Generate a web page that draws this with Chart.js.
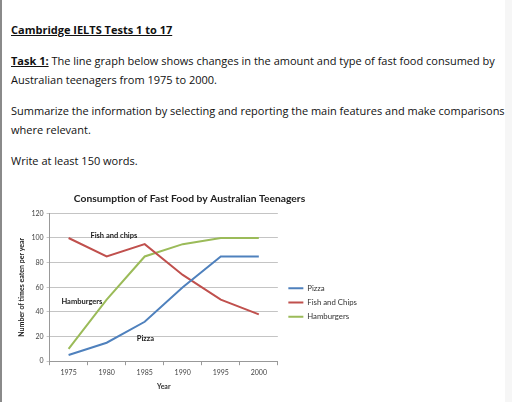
<!DOCTYPE html>
<html>
<head>
<meta charset="utf-8">
<script src="https://cdn.jsdelivr.net/npm/chart.js@4/dist/chart.umd.min.js"></script>
<style>
  html, body { margin: 0; padding: 0; background: #fff; }
  body { width: 512px; height: 402px; position: relative; overflow: hidden; font-family: "Open Sans", sans-serif; color: #111; }
  .edge { position: absolute; left: 0; top: 0; width: 2px; height: 402px; background: #8a8a8a; }
  .shade { position: absolute; right: 0; top: 0; width: 7px; height: 402px; background: #f6f6f6; }
  .txt { position: absolute; left: 11px; font-size: 11px; line-height: 19px; white-space: nowrap; }
  .txt b { font-weight: 700; text-decoration: underline; }
  #wrap { position: absolute; left: 12px; top: 188px; width: 355px; height: 205px; }
</style>
</head>
<body>
<div class="edge"></div>
<div class="shade"></div>
<div class="txt" style="top:20px"><b>Cambridge IELTS Tests 1 to 17</b></div>
<div class="txt" style="top:51px"><b>Task 1:</b> The line graph below shows changes in the amount and type of fast food consumed by<br>Australian teenagers from 1975 to 2000.</div>
<div class="txt" style="top:101px">Summarize the information by selecting and reporting the main features and make comparisons<br>where relevant.</div>
<div class="txt" style="top:151px">Write at least 150 words.</div>
<div id="wrap"><canvas id="chart"></canvas></div>
<script>
const years = ['1975', '1980', '1985', '1990', '1995', '2000'];
const pizza = [5, 15, 32, 60, 85, 85];
const fishAndChips = [100, 85, 95, 70, 50, 38];
const hamburgers = [10, 50, 85, 95, 100, 100];

// labels written on the plot, placed by category index and value
const annoText = ['Fish and chips', 'Hamburgers', 'Pizza'];
const annoIndex = [1.19, 0.35, 2.02];
const annoValue = [102, 48, 18];

const FONT = 'Lato, sans-serif';

const annoPlugin = {
  id: 'annotations',
  afterDatasetsDraw(chart) {
    const { ctx, scales: { x, y } } = chart;
    ctx.save();
    ctx.font = 'bold 7.5px ' + FONT;
    ctx.fillStyle = '#1a1a1a';
    ctx.textAlign = 'center';
    ctx.textBaseline = 'middle';
    annoText.forEach((t, i) => {
      ctx.fillText(t, x.getPixelForValue(annoIndex[i]), y.getPixelForValue(annoValue[i]));
    });
    ctx.restore();
  }
};

function line(label, data, color) {
  return {
    label, data,
    borderColor: color, backgroundColor: color,
    borderWidth: 2, pointRadius: 0, tension: 0
  };
}

new Chart(document.getElementById('chart'), {
  type: 'line',
  data: {
    labels: years,
    datasets: [
      line('Pizza', pizza, '#4f81bd'),
      line('Fish and Chips', fishAndChips, '#c0504d'),
      line('Hamburgers', hamburgers, '#9bbb59')
    ]
  },
  options: {
    responsive: true,
    maintainAspectRatio: false,
    animation: false,
    layout: { padding: 0 },
    plugins: {
      title: {
        display: true,
        text: 'Consumption of Fast Food by Australian Teenagers',
        color: '#222',
        font: { family: FONT, size: 10.3, weight: 'bold' },
        padding: { top: 4, bottom: 9 }
      },
      legend: {
        position: 'right',
        maxWidth: 100,
        // empty title just pushes the items down a little
        title: { display: true, text: '', font: { size: 10 }, padding: 6 },
        labels: {
          usePointStyle: true,
          pointStyle: 'line',
          pointStyleWidth: 15,
          color: '#333',
          font: { family: FONT, size: 7.8 },
          padding: 6.5
        }
      },
      tooltip: { enabled: false }
    },
    scales: {
      x: {
        offset: true,
        grid: { offset: true, drawOnChartArea: false, tickLength: 4, color: '#999' },
        border: { color: '#999' },
        ticks: { color: '#444', font: { family: FONT, size: 7 }, padding: 3 },
        title: { display: true, text: 'Year', color: '#333', font: { family: FONT, size: 7, weight: 'bold' }, padding: { top: 3, bottom: 2 } }
      },
      y: {
        min: 0, max: 120,
        ticks: { stepSize: 20, color: '#444', font: { family: FONT, size: 7 }, padding: 3 },
        grid: { color: '#c4c4c4', tickLength: 3 },
        border: { color: '#999' },
        title: { display: true, text: 'Number of times eaten per year', color: '#222', font: { family: FONT, size: 7, weight: 'bold' }, padding: { top: 6, bottom: 2 } }
      },
      // empty strip between the plot and the legend
      gap: {
        position: 'right', display: true,
        grid: { display: false, drawTicks: false }, border: { display: false },
        ticks: { display: false },
        afterFit(s) { s.width = 4; }
      }
    }
  },
  plugins: [annoPlugin]
});
</script>
</body>
</html>
